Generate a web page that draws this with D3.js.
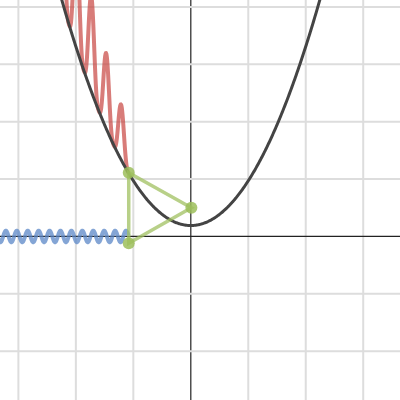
<!DOCTYPE html>
<html><head><meta charset="utf-8">
<script src="https://cdn.jsdelivr.net/npm/d3@7"></script>
<style>body{margin:0;background:#fff}</style></head>
<body><svg width="400" height="400"></svg>
<script>
// graph parameters
const parabola = { a: 0.78, c: 0.19 };
const gridTicks = [-3, -2, -1, 0, 1, 2, 3];
const triangle = [[-1.08, 1.11], [-1.08, -0.12], [0.01, 0.5]];
const redWave = { start: -2.3, end: -1.08, period: 0.26, amp0: 0.78, ampSlope: 1.35 };
const blueWave = { start: -3.4, end: -1.08, period: 0.19, amp: 0.1 };

const svg = d3.select('svg');
const x = d3.scaleLinear().domain([-3.32, 3.64]).range([0, 400]);
const y = d3.scaleLinear().domain([-2.85, 4.12]).range([400, 0]);

svg.selectAll('.gx').data(gridTicks).enter().append('line')
  .attr('x1', d => x(d)).attr('x2', d => x(d)).attr('y1', 0).attr('y2', 400)
  .attr('stroke', d => d === 0 ? '#222' : '#ddd').attr('stroke-width', d => d === 0 ? 1.2 : 2);
svg.selectAll('.gy').data([-3, -2, -1, 0, 1, 2, 3, 4]).enter().append('line')
  .attr('y1', d => y(d)).attr('y2', d => y(d)).attr('x1', 0).attr('x2', 400)
  .attr('stroke', d => d === 0 ? '#222' : '#ddd').attr('stroke-width', d => d === 0 ? 1.2 : 2);

const f = t => parabola.a * t * t + parabola.c;
const line = d3.line().x(d => x(d[0])).y(d => y(d[1]));

// blue wave
const bx = d3.range(blueWave.start, blueWave.end, 0.005);
svg.append('path').attr('d', line(bx.map(t => [t, blueWave.amp * Math.sin(2 * Math.PI * (blueWave.end - t) / blueWave.period)])))
  .attr('fill', 'none').attr('stroke', '#5b87c7').attr('stroke-width', 4).attr('opacity', 0.75);

// red wave
const rx = d3.range(redWave.start, redWave.end + 0.001, 0.003);
svg.append('path').attr('d', line(rx.map(t => {
  const d = redWave.end - t;
  const s = Math.abs(Math.sin(Math.PI * d / redWave.period));
  return [t, f(t) + (redWave.amp0 + redWave.ampSlope * d) * Math.pow(s, 3)];
}))).attr('fill', 'none').attr('stroke', '#c74440').attr('stroke-width', 4).attr('opacity', 0.7);

// parabola
svg.append('path').attr('d', line(d3.range(-2.4, 2.5, 0.01).map(t => [t, f(t)])))
  .attr('fill', 'none').attr('stroke', '#444').attr('stroke-width', 3);

// triangle
svg.append('path').attr('d', line(triangle) + 'Z')
  .attr('fill', 'none').attr('stroke', '#a0c060').attr('stroke-width', 3.5).attr('opacity', 0.75);
svg.selectAll('.pt').data(triangle).enter().append('circle')
  .attr('cx', d => x(d[0])).attr('cy', d => y(d[1])).attr('r', 6)
  .attr('fill', '#9cbe5a').attr('opacity', 0.85);
</script></body></html>
